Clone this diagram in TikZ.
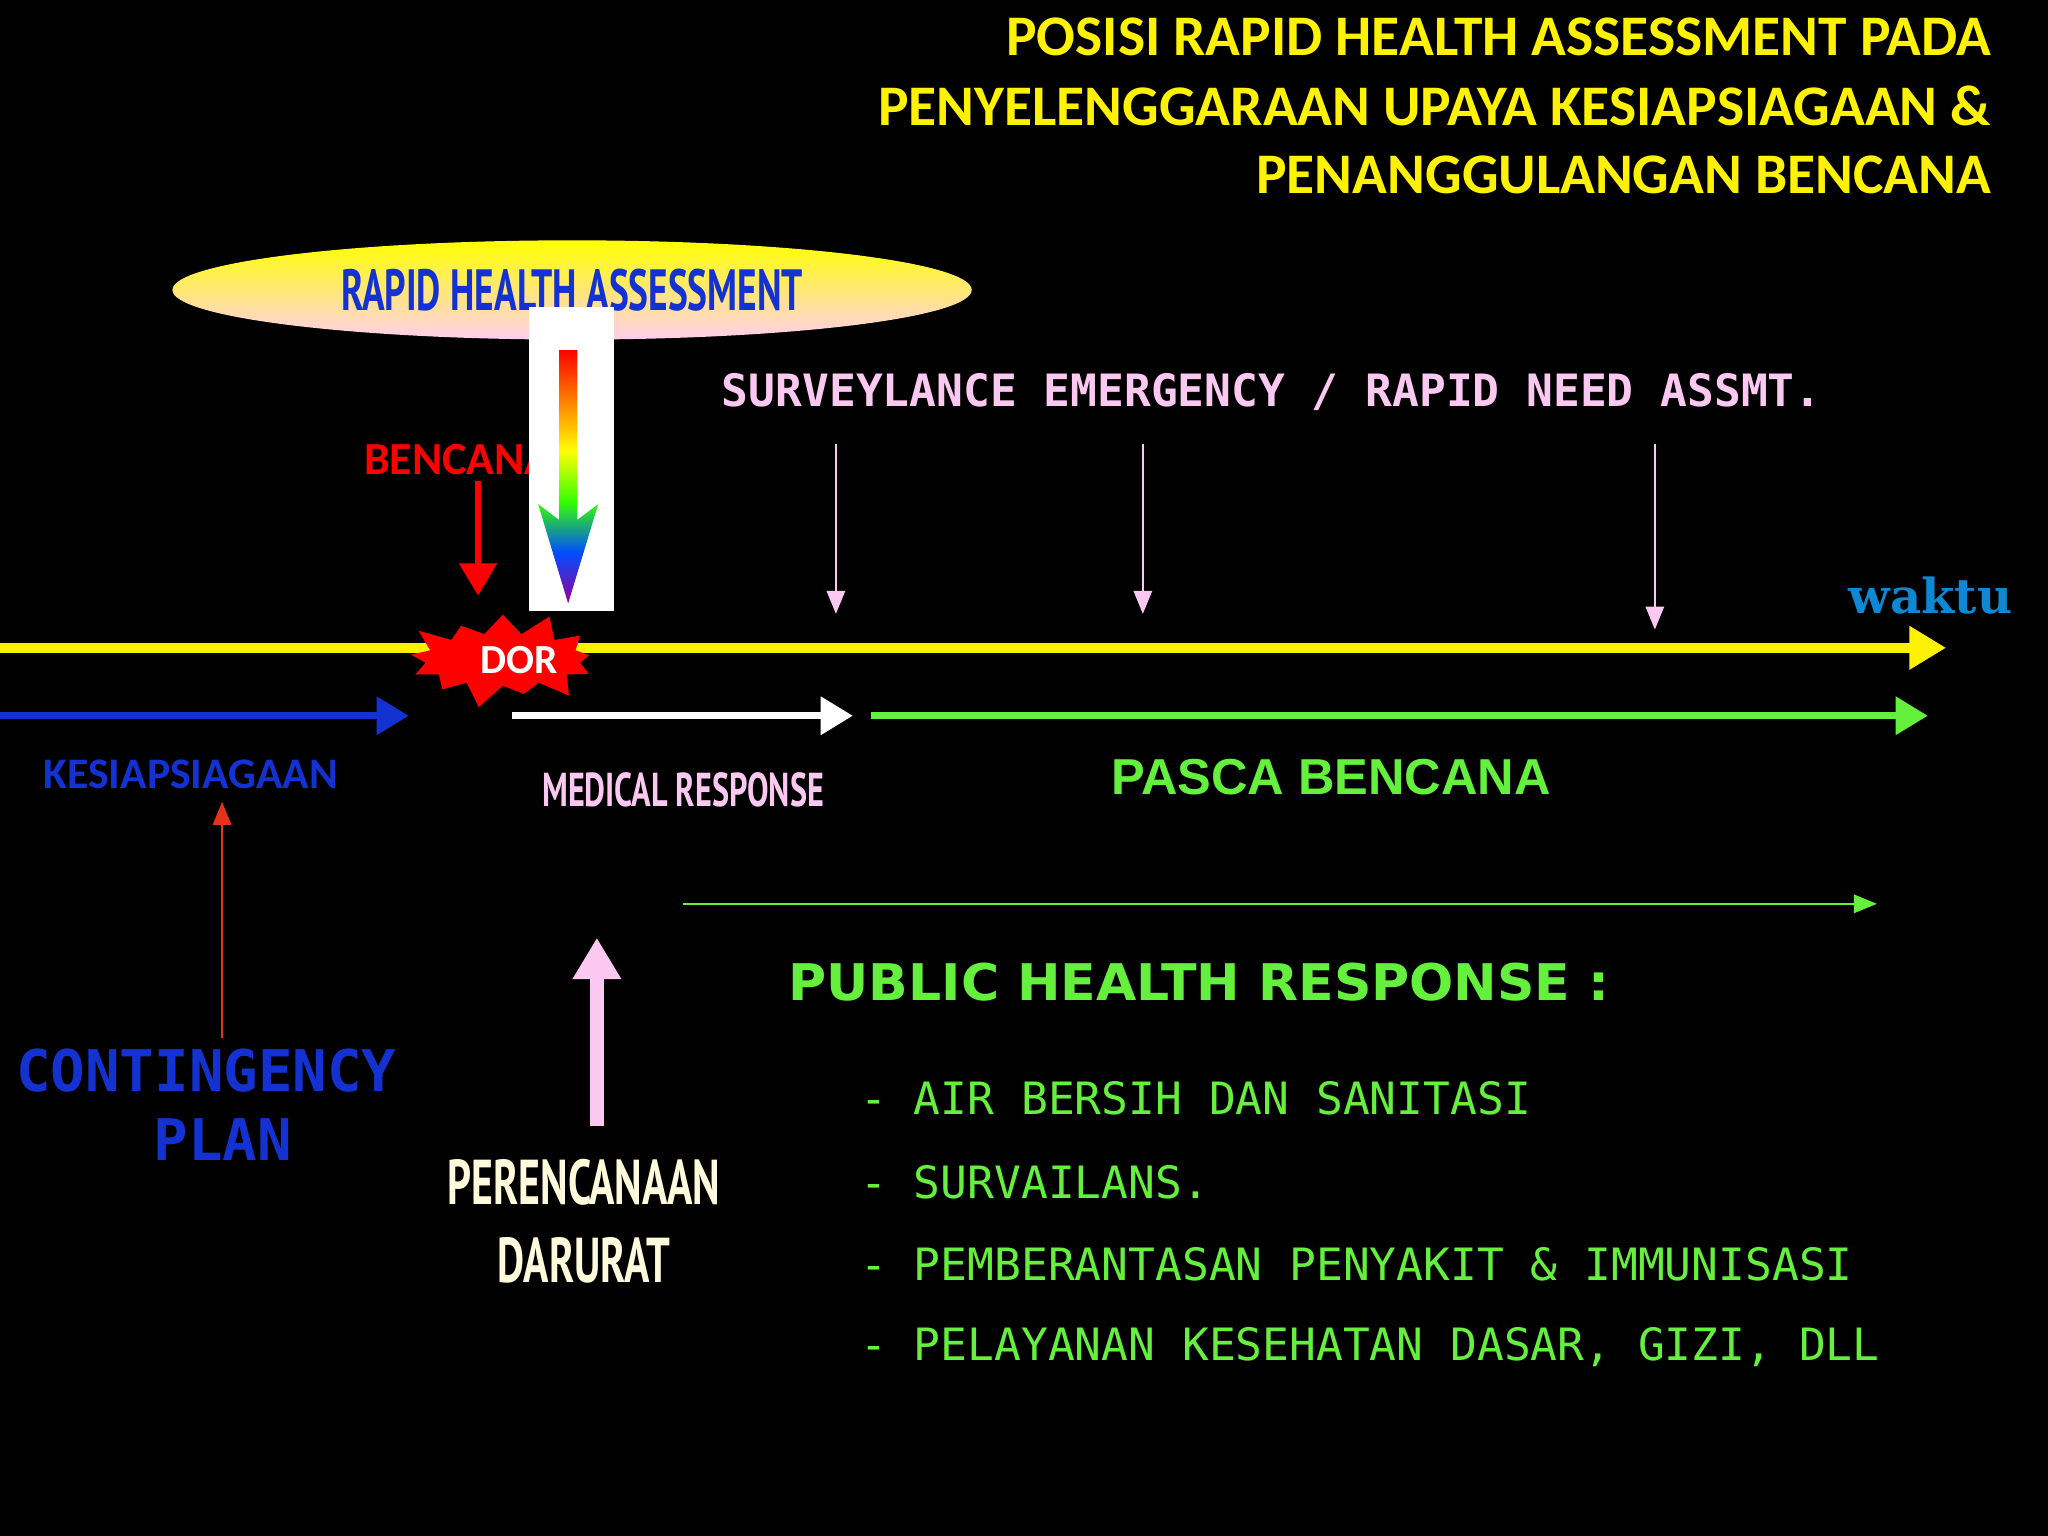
\documentclass[tikz,border=0pt]{standalone}
\usepackage{fontspec}
\setmainfont{Carlito}
\setmonofont{DejaVu Sans Mono}
\newfontfamily\condf{PT Sans}
\newfontfamily\wakf{DejaVu Serif}
\usetikzlibrary{shapes.symbols,arrows.meta}
\pgfdeclareverticalshading{rainbowsh}{100bp}{color(0bp)=(violet!80!magenta); color(25bp)=(violet!80!magenta); color(35bp)=(blue!70!cyan); color(45bp)=(green!80!yellow); color(55bp)=(yellow); color(65bp)=(orange); color(75bp)=(red); color(100bp)=(red)}
\tikzset{
 ttl/.style={text=yellow,font=\bfseries\fontsize{12.5pt}{14pt}\selectfont,anchor=east,inner sep=0},
 mono/.style={font=\ttfamily\fontsize{9.7pt}{12pt}\selectfont,anchor=west,inner sep=0},
 thinar/.style={-{Triangle[length=5pt,width=4pt]},line width=0.4pt},
 thickar/.style={-{Triangle[length=7pt,width=8pt]},line width=1.6pt}
}
\definecolor{tblue}{RGB}{20,50,210}
\definecolor{tgreen}{RGB}{100,240,60}
\definecolor{tpink}{RGB}{250,200,240}
\definecolor{tcream}{RGB}{255,250,220}
\begin{document}
\begin{tikzpicture}[x=0.01cm,y=-0.01cm]
\fill[black] (0,0) rectangle (1568,1176);
\useasboundingbox (0,0) rectangle (1568,1176);
\node[ttl] (t1) at (1525,28) {POSISI RAPID HEALTH ASSESSMENT PADA};
\node[ttl] (t2) at (1525,81) {PENYELENGGARAAN UPAYA KESIAPSIAGAAN \&};
\node[ttl] (t3) at (1525,134) {PENANGGULANGAN BENCANA};
% ellipse
\shade[top color=yellow,bottom color=pink!70!magenta!40!white] (438,222) ellipse [x radius=306,y radius=38];
\node[text=tblue,font=\condf\bfseries\fontsize{11pt}{13pt}\selectfont] (rha) at (438,222) {\scalebox{0.74}[1.15]{RAPID HEALTH ASSESSMENT}};
% bencana
\node[text=red,font=\bfseries\fontsize{10pt}{12pt}\selectfont,anchor=west,inner sep=0] (ben) at (278,352) {BENCANA};
\coordinate (bena) at (366,368);
\coordinate (benb) at (366,456);
\draw[red,thickar,line width=1.2pt] (bena) -- (benb);
% rainbow box
\fill[white] (405,235) rectangle (470,468);
\shade[shading=rainbowsh]
 (428,268) -- (442,268) -- (442,398) -- (458,386) -- (435,462) -- (412,386) -- (428,398) -- cycle;
% surveylance
\node[mono,text=tpink,font=\ttfamily\bfseries\fontsize{9.7pt}{12pt}\selectfont] (sv) at (552,300) {SURVEYLANCE EMERGENCY / RAPID NEED ASSMT.};
\foreach \x/\e in {640/470,875/470,1267/482}{
 \coordinate (s\x) at (\x,340); \coordinate (e\x) at (\x,\e);
 \draw[tpink,thinar] (s\x) -- (e\x);}
% waktu
\node[text=cyan!70!blue,font=\wakf\bfseries\fontsize{10.5pt}{13pt}\selectfont] (wak) at (1478,456) {waktu};
% timeline
\coordinate (y0) at (0,496); \coordinate (y1) at (1490,496);
\draw[yellow,line width=2.2pt,-{Triangle[length=8pt,width=9pt]}] (y0) -- (y1);
\node[starburst,fill=red,draw=none,minimum width=1.35cm,minimum height=0.8cm,starburst points=13,starburst point height=0.2cm,text=white,font=\bfseries\fontsize{9pt}{10pt}\selectfont,inner sep=0pt] (dor) at (385,505) {\hspace{0.25cm}DOR};
\coordinate (b0) at (0,548); \coordinate (b1) at (313,548);
\draw[tblue,thickar] (b0) -- (b1);
\coordinate (w0) at (392,548); \coordinate (w1) at (653,548);
\draw[white,thickar] (w0) -- (w1);
\coordinate (g0) at (667,548); \coordinate (g1) at (1476,548);
\draw[tgreen,thickar] (g0) -- (g1);
\node[text=tblue,font=\bfseries\fontsize{9.5pt}{11pt}\selectfont] (kes) at (146,593) {KESIAPSIAGAAN};
\node[text=tpink,font=\condf\bfseries\fontsize{9pt}{11pt}\selectfont] (med) at (523,605) {\scalebox{0.78}[1.15]{MEDICAL RESPONSE}};
\node[text=tgreen,font=\sffamily\bfseries\fontsize{11pt}{13pt}\selectfont] (pas) at (1019,595) {\fontspec{Liberation Sans}\bfseries PASCA BENCANA};
\coordinate (p0) at (523,692); \coordinate (p1) at (1437,692);
\draw[tgreen,thinar] (p0) -- (p1);
\node[text=tgreen,font=\fontsize{11pt}{13pt}\selectfont] (phr) at (918,752) {\fontspec{DejaVu Sans}\bfseries\scalebox{1.03}[1]{PUBLIC HEALTH RESPONSE :}};
% contingency
\coordinate (c0) at (170,795); \coordinate (c1) at (170,614);
\draw[red!60!brown,thinar] (c0) -- (c1);
\node[text=tblue,font=\ttfamily\bfseries\fontsize{12.5pt}{15pt}\selectfont,align=center] (cp) at (158,846) {CONTINGENCY\\\hspace*{0.25cm}PLAN};
% perencanaan
\coordinate (r0) at (457,862); \coordinate (r1) at (457,718);
\draw[tpink,line width=3pt,-{Triangle[length=9pt,width=10pt]}] (r0) -- (r1);
\node[text=tcream,font=\condf\bfseries\fontsize{12pt}{15pt}\selectfont,align=center] (per) at (447,935) {\scalebox{0.76}[1.15]{PERENCANAAN}\\[2pt]\scalebox{0.76}[1.15]{DARURAT}};
% list
\node[mono,text=tgreen] (l1) at (658,841) {- AIR BERSIH DAN SANITASI};
\node[mono,text=tgreen] (l2) at (658,905) {- SURVAILANS.};
\node[mono,text=tgreen] (l3) at (658,968) {- PEMBERANTASAN PENYAKIT \& IMMUNISASI};
\node[mono,text=tgreen] (l4) at (658,1031) {- PELAYANAN KESEHATAN DASAR, GIZI, DLL};
\end{tikzpicture}
\end{document}
